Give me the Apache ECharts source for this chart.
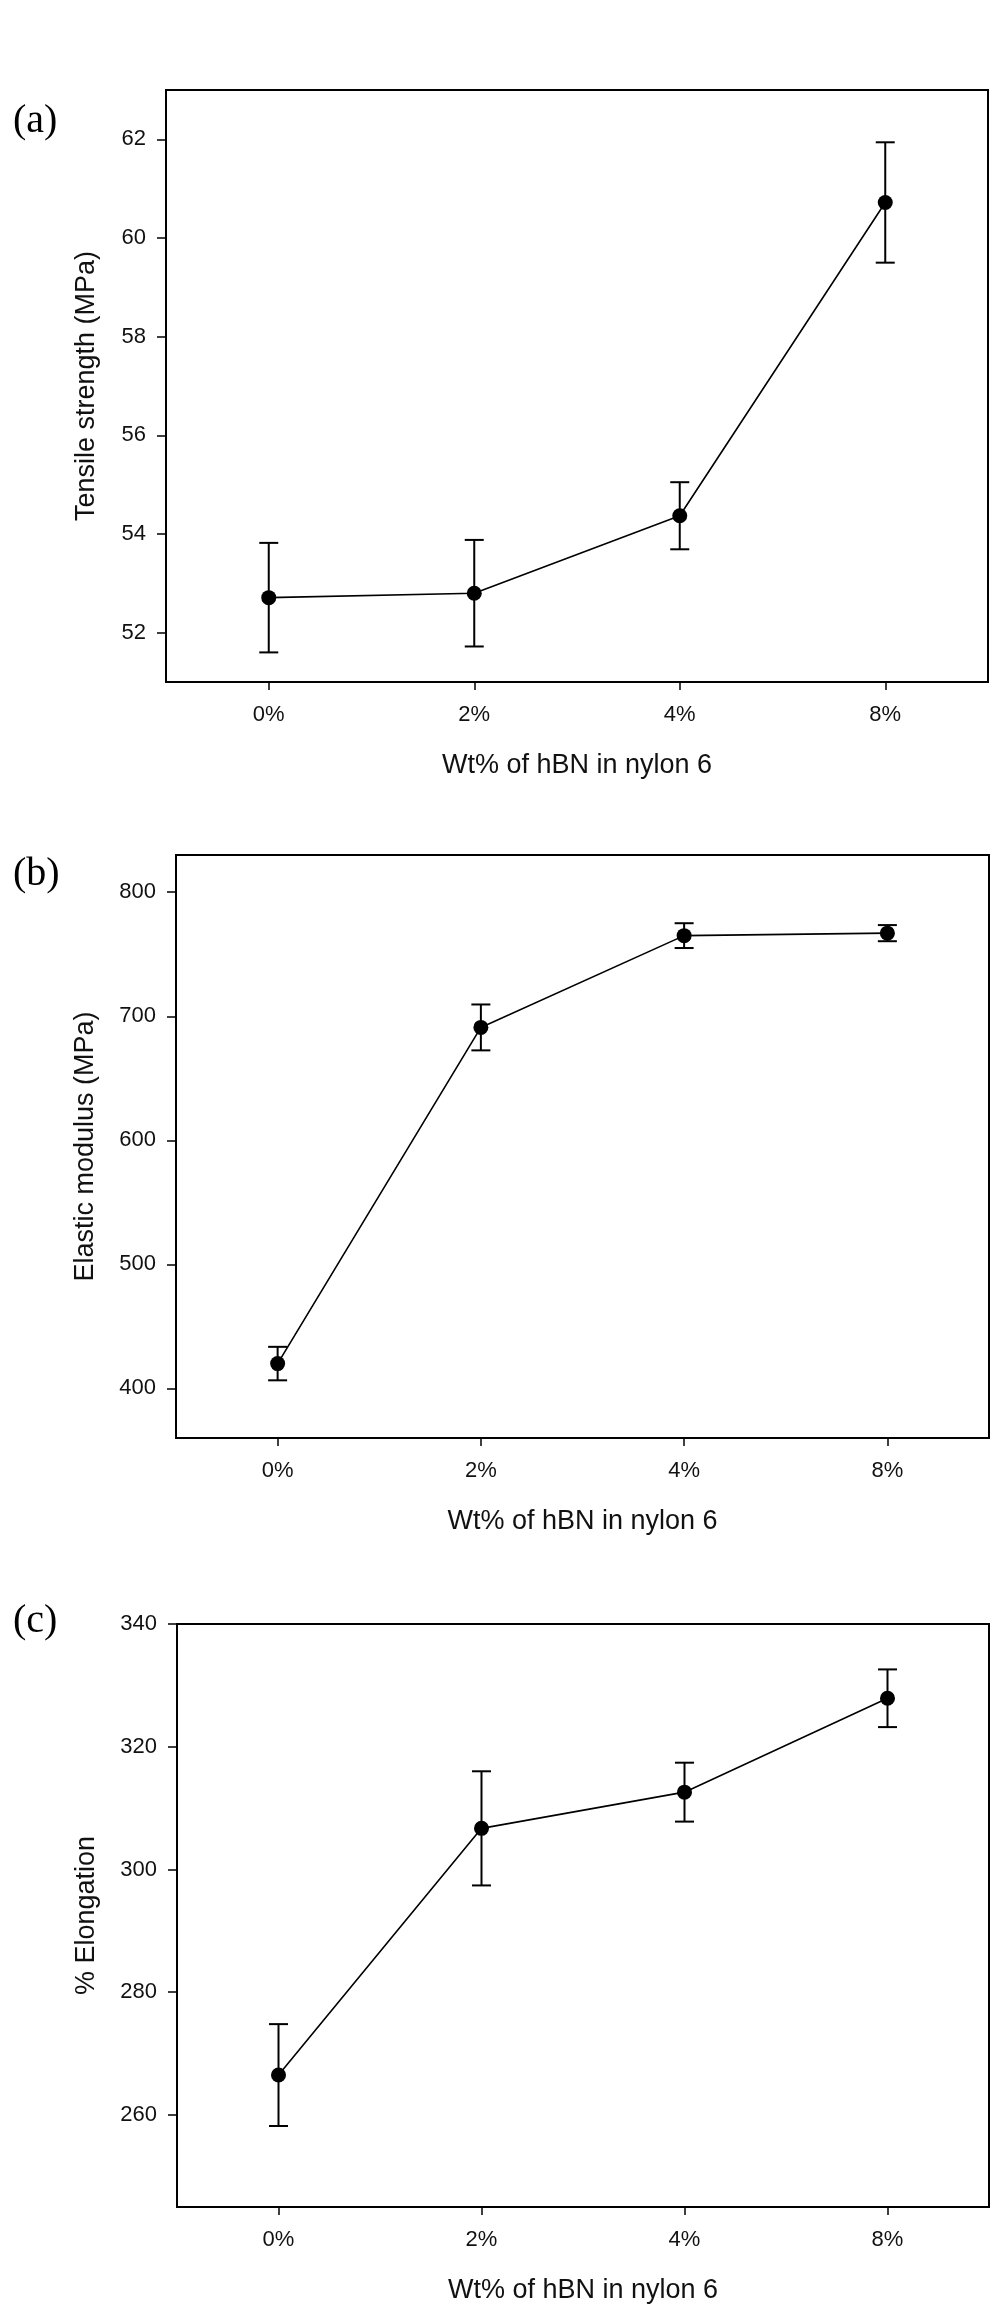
<!DOCTYPE html>
<html>
<head>
<meta charset="utf-8">
<script src="https://cdn.jsdelivr.net/npm/echarts@6/dist/echarts.min.js"></script>
<style>
html,body{margin:0;padding:0;background:#fff;}
#chart{width:1006px;height:2321px;}
</style>
</head>
<body>
<div id="chart"></div>
<script>
// ---- data ----
const categories = ['0%', '2%', '4%', '8%'];

const tensileMean = [52.71, 52.80, 54.37, 60.72];
const tensileErr  = [1.11, 1.08, 0.68, 1.22];
const tensileTicks = [52, 54, 56, 58, 60, 62];

const modulusMean = [420, 691, 765, 767];
const modulusErr  = [13.5, 18.5, 10, 6.5];
const modulusTicks = [400, 500, 600, 700, 800];

const elongMean = [266.5, 306.7, 312.6, 327.9];
const elongErr  = [8.3, 9.3, 4.8, 4.7];
const elongTicks = [260, 280, 300, 320, 340];

const xTitle = 'Wt% of hBN in nylon 6';
const yTitles = ['Tensile strength (MPa)', 'Elastic modulus (MPa)', '% Elongation'];
const panelLabels = ['(a)', '(b)', '(c)'];

// ---- layout ----
const SANS = '"Liberation Sans", Arial, sans-serif';
const SERIF = '"Liberation Serif", "Times New Roman", serif';
const grids = [
  {left: 166, top: 90, right: 18, height: 592},
  {left: 176, top: 855, right: 17, height: 583},
  {left: 177, top: 1624, right: 17, height: 583}
];
const yRanges = [[51, 63], [360, 830], [245, 340]];
const yTicks = [tensileTicks, modulusTicks, elongTicks];
const means = [tensileMean, modulusMean, elongMean];
const errs = [tensileErr, modulusErr, elongErr];
const yNameGaps = [66, 77, 77];
const labelTops = [101, 854, 1601];

const option = {
  backgroundColor: '#fff',
  animation: false,
  grid: grids.map(g => Object.assign({show: true, borderColor: '#000', borderWidth: 2, backgroundColor: 'transparent'}, g)),
  xAxis: grids.map((g, i) => ({
    type: 'category', gridIndex: i, data: categories, boundaryGap: true,
    axisLine: {show: true, lineStyle: {color: '#000', width: 2}},
    axisTick: {show: true, alignWithLabel: true, length: 8, lineStyle: {color: '#000', width: 1.5}},
    axisLabel: {color: '#111', fontFamily: SANS, fontSize: 22, margin: 22},
    splitLine: {show: false},
    name: xTitle, nameLocation: 'middle', nameGap: 70,
    nameTextStyle: {color: '#111', fontFamily: SANS, fontSize: 27}
  })),
  yAxis: grids.map((g, i) => ({
    type: 'value', gridIndex: i, min: yRanges[i][0], max: yRanges[i][1],
    axisLine: {show: true, lineStyle: {color: '#000', width: 2}},
    axisTick: {show: true, length: 9, customValues: yTicks[i], lineStyle: {color: '#000', width: 1.5}},
    axisLabel: {color: '#111', fontFamily: SANS, fontSize: 22, margin: 20, customValues: yTicks[i]},
    splitLine: {show: false},
    name: yTitles[i], nameLocation: 'middle', nameGap: yNameGaps[i],
    nameTextStyle: {color: '#111', fontFamily: SANS, fontSize: 27}
  })),
  graphic: panelLabels.map((t, i) => ({
    type: 'text', left: 13, top: labelTops[i],
    style: {text: t, font: '40px ' + SERIF, fill: '#000'}
  })),
  series: []
};

means.forEach((m, i) => {
  option.series.push({
    type: 'custom', xAxisIndex: i, yAxisIndex: i,
    data: m.map((v, j) => [j, v - errs[i][j], v + errs[i][j]]),
    renderItem: function (params, api) {
      const lo = api.coord([api.value(0), api.value(1)]);
      const hi = api.coord([api.value(0), api.value(2)]);
      const hw = 9.5;
      const st = {stroke: '#000', lineWidth: 2};
      return {type: 'group', children: [
        {type: 'line', shape: {x1: lo[0], y1: lo[1], x2: hi[0], y2: hi[1]}, style: st},
        {type: 'line', shape: {x1: lo[0] - hw, y1: lo[1], x2: lo[0] + hw, y2: lo[1]}, style: st},
        {type: 'line', shape: {x1: hi[0] - hw, y1: hi[1], x2: hi[0] + hw, y2: hi[1]}, style: st}
      ]};
    },
    z: 2
  });
  option.series.push({
    type: 'line', xAxisIndex: i, yAxisIndex: i, data: m,
    symbol: 'circle', symbolSize: 15, showSymbol: true,
    lineStyle: {color: '#000', width: 1.6},
    itemStyle: {color: '#000'},
    z: 3
  });
});

const chart = echarts.init(document.getElementById('chart'), null, {renderer: 'canvas', width: 1006, height: 2321});
chart.setOption(option);
</script>
</body>
</html>
